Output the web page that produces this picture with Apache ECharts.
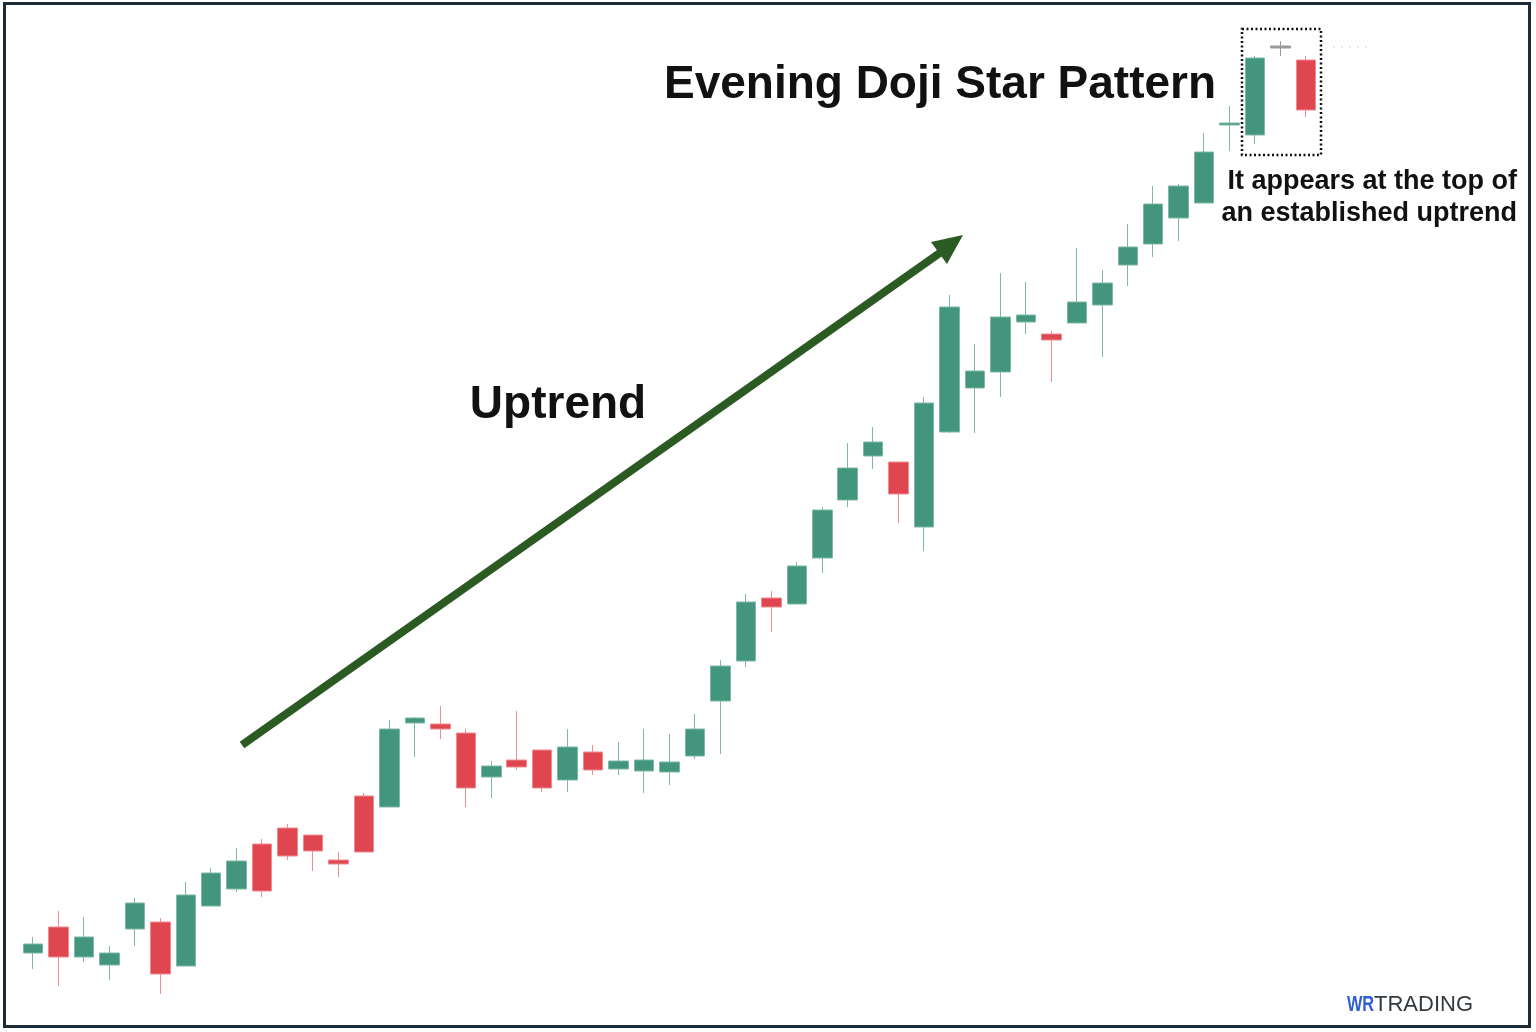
<!DOCTYPE html>
<html>
<head>
<meta charset="utf-8">
<script src="https://cdn.jsdelivr.net/npm/echarts@6/dist/echarts.min.js"></script>
<style>
  html, body { margin: 0; padding: 0; background: #ffffff; }
  #chart { width: 1536px; height: 1032px; }
</style>
</head>
<body>
<div id="chart"></div>
<script>
// ---- Data ----
const categories = Array.from({length: 51}, (_, i) => 'D' + (i + 1));
const openVals  = [7.9,10.5,7.5,6.7,10.3,11.0,6.6,12.6,14.3,18.8,20.4,19.7,17.2,23.6,22.5,30.9,30.8,29.9,25.5,27.2,28.2,25.2,28.0,26.3,26.1,26.0,27.6,33.1,37.1,43.4,42.8,47.4,53.2,57.6,57.0,50.5,60.0,64.4,66.0,71.0,69.8,70.9,72.7,76.7,78.8,81.4,82.9,90.7,89.7,98.4,97.2];
const closeVals = [8.8,7.5,9.5,7.9,12.9,5.8,13.7,15.9,17.1,14.1,17.6,18.1,16.8,18.0,30.3,31.4,30.3,24.4,26.6,26.5,24.4,28.5,26.2,27.1,27.2,27.0,30.3,36.6,43.0,42.5,46.6,52.2,56.4,59.0,53.8,62.9,72.5,66.1,71.5,71.7,69.2,73.0,74.9,78.5,82.8,84.6,88.0,90.9,97.4,98.6,92.2];
const lowVals   = [6.3,4.6,7.0,5.2,8.6,3.8,6.6,12.6,14.0,13.5,17.2,16.1,15.5,18.0,22.5,27.5,29.3,22.5,23.4,26.2,24.0,24.0,25.7,25.7,23.9,24.7,27.3,27.8,36.5,40.0,42.8,45.9,52.5,56.3,50.9,48.1,59.9,59.9,63.5,69.8,65.0,70.9,67.5,74.6,77.5,79.1,82.9,88.1,88.8,97.6,91.5];
const highVals  = [9.5,12.1,11.5,8.6,13.4,11.4,15.0,16.4,18.4,19.3,20.8,19.7,18.0,23.9,31.2,31.5,32.6,30.3,27.1,32.1,28.2,30.3,28.7,29.0,30.3,29.8,31.8,37.2,43.8,44.1,47.0,52.5,58.9,60.5,57.0,63.5,73.7,68.8,75.9,75.0,70.1,78.4,76.2,80.8,84.6,84.8,89.9,92.6,97.6,99.1,97.6];
const neutralIndex = 49; // the grey doji star

const titleText = 'Evening Doji Star Pattern';
const trendText = 'Uptrend';
const noteLines = ['It appears at the top of', 'an established uptrend'];

// ---- Styles ----
const UP = '#44957E', UP_EDGE = '#7DB9A6';
const DOWN = '#E0464F', DOWN_EDGE = '#EE8C92';
const GREY = '#9A9A9A';
const ARROW = '#2B5A22';

const candleData = categories.map((c, i) => {
  const v = [openVals[i], closeVals[i], lowVals[i], highVals[i]];
  if (i === neutralIndex) {
    return { value: v, itemStyle: { color: GREY, color0: GREY, borderColor: GREY, borderColor0: GREY } };
  }
  return v;
});

const chart = echarts.init(document.getElementById('chart'), null, { renderer: 'canvas' });

const bandW = (1306 - 33) / 50;
const gridLeft = 33 - bandW / 2;
const gridRight = 1536 - (gridLeft + 51 * bandW);

chart.setOption({
  animation: false,
  backgroundColor: '#ffffff',
  grid: { left: gridLeft, right: gridRight, top: 0, bottom: 0 },
  xAxis: {
    type: 'category', data: categories, boundaryGap: true, show: false
  },
  yAxis: {
    type: 'value', min: 0, max: 103.2, show: false, splitLine: { show: false }
  },
  series: [{
    type: 'candlestick',
    data: candleData,
    barWidth: 20,
    itemStyle: {
      color: UP, color0: DOWN,
      borderColor: UP_EDGE, borderColor0: DOWN_EDGE,
      borderWidth: 1
    }
  }],
  graphic: [
    // outer frame
    { type: 'rect', shape: { x: 4.5, y: 3.5, width: 1525, height: 1023 },
      style: { fill: 'none', stroke: '#1D2A38', lineWidth: 3 }, z: 10 },
    // trend arrow
    { type: 'line', shape: { x1: 242, y1: 745, x2: 944, y2: 250 },
      style: { stroke: ARROW, lineWidth: 8 }, z: 5 },
    { type: 'polygon', shape: { points: [[963, 235], [931, 242], [947, 264]] },
      style: { fill: ARROW }, z: 5 },
    // dotted highlight box
    { type: 'rect', shape: { x: 1242, y: 29, width: 79, height: 126 },
      style: { fill: 'none', stroke: '#111111', lineWidth: 2.5, lineDash: [2, 2.5] }, z: 6 },
    { type: 'line', shape: { x1: 1333, y1: 47, x2: 1372, y2: 47 },
      style: { stroke: '#d8d8d8', lineWidth: 1, lineDash: [2, 6] }, z: 4 },
    // texts
    { type: 'text', z: 8, style: { text: titleText, x: 940, y: 85,
      font: 'bold 46px "Liberation Sans", Arial, sans-serif', fill: '#111111',
      textAlign: 'center', textVerticalAlign: 'middle' } },
    { type: 'text', z: 8, style: { text: trendText, x: 558, y: 405,
      font: 'bold 46px "Liberation Sans", Arial, sans-serif', fill: '#111111',
      textAlign: 'center', textVerticalAlign: 'middle' } },
    { type: 'text', z: 8, style: { text: noteLines[0], x: 1517, y: 182,
      font: 'bold 27px "Liberation Sans", Arial, sans-serif', fill: '#111111',
      textAlign: 'right', textVerticalAlign: 'middle' } },
    { type: 'text', z: 8, style: { text: noteLines[1], x: 1517, y: 214,
      font: 'bold 27px "Liberation Sans", Arial, sans-serif', fill: '#111111',
      textAlign: 'right', textVerticalAlign: 'middle' } },
    // logo
    { type: 'text', z: 8, x: 1347, y: 1005, scaleX: 0.74,
      style: { text: 'WR', x: 0, y: 0,
      font: 'bold 22px "Liberation Sans", Arial, sans-serif', fill: '#2F5FD0',
      textAlign: 'left', textVerticalAlign: 'middle' } },
    { type: 'text', z: 8, style: { text: 'TRADING', x: 1374, y: 1005,
      font: '22px "Liberation Sans", Arial, sans-serif', fill: '#333a40',
      textAlign: 'left', textVerticalAlign: 'middle' } }
  ]
});
</script>
</body>
</html>
